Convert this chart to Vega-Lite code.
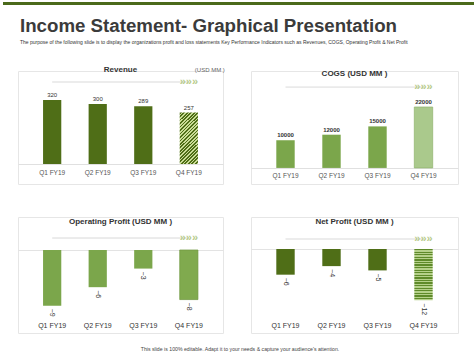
{
  "$schema": "https://vega.github.io/schema/vega-lite/v6.json",
  "padding": 0,
  "spacing": 0,
  "background": "white",
  "config": {
    "view": {"stroke": null},
    "font": "Liberation Sans",
    "title": {"font": "Liberation Sans", "fontSize": 8, "fontWeight": "bold", "color": "#333333"},
    "text": {"font": "Liberation Sans"},
    "axis": {"labelFont": "Liberation Sans"}
  },
  "datasets": {
    "revenue": [
      {"q": "Q1 FY19", "v": 320, "kind": "actual"},
      {"q": "Q2 FY19", "v": 300, "kind": "actual"},
      {"q": "Q3 FY19", "v": 289, "kind": "actual"},
      {"q": "Q4 FY19", "v": 257, "kind": "forecast"}
    ],
    "cogs": [
      {"q": "Q1 FY19", "v": 10000, "kind": "actual"},
      {"q": "Q2 FY19", "v": 12000, "kind": "actual"},
      {"q": "Q3 FY19", "v": 15000, "kind": "actual"},
      {"q": "Q4 FY19", "v": 22000, "kind": "forecast"}
    ],
    "op": [
      {"q": "Q1 FY19", "v": -9, "kind": "actual"},
      {"q": "Q2 FY19", "v": -6, "kind": "actual"},
      {"q": "Q3 FY19", "v": -3, "kind": "actual"},
      {"q": "Q4 FY19", "v": -8, "kind": "forecast"}
    ],
    "net": [
      {"q": "Q1 FY19", "v": -6, "kind": "actual"},
      {"q": "Q2 FY19", "v": -4, "kind": "actual"},
      {"q": "Q3 FY19", "v": -5, "kind": "actual"},
      {"q": "Q4 FY19", "v": -12, "kind": "forecast"}
    ]
  },
  "vconcat": [
    {
      "width": 474, "height": 3,
      "view": {"fill": "#4b6a1b", "stroke": null},
      "data": {"values": [{"s": "bar"}]},
      "mark": {"type": "point", "opacity": 0}
    },
    {
      "width": 474, "height": 57.6,
      "title": {
        "text": "Income Statement- Graphical Presentation",
        "subtitle": "The purpose of the following slide is to display the organizations profit and loss statements Key Performance Indicators such as Revenues, COGS,  Operating Profit & Net Profit",
        "anchor": "start", "frame": "group", "dx": 17, "offset": -37.5,
        "fontSize": 18.7, "fontWeight": "bold", "color": "#3b3b3b",
        "subtitleFont": "Liberation Sans", "subtitleFontSize": 5, "subtitleColor": "#333333", "subtitlePadding": 3.5
      },
      "data": {"values": [{"s": "header"}]},
      "mark": {"type": "point", "opacity": 0}
    },
    {
      "hconcat": [
        {"width": 15, "height": 113, "data": {"values": [{"s": "sp"}]}, "mark": {"type": "point", "opacity": 0}},
        {
          "width": 205, "height": 113,
          "view": {"stroke": "#e6e6e6", "strokeWidth": 1},
          "title": {"text": "Revenue", "offset": -7.1},
          "data": {"name": "revenue"},
          "encoding": {
            "x": {"field": "q", "type": "nominal",
              "scale": {"domain": ["Q1 FY19", "Q2 FY19", "Q3 FY19", "Q4 FY19"], "paddingInner": 0.6, "paddingOuter": 0.55},
              "axis": {"title": null, "labelAngle": 0, "labelFontSize": 6.5, "labelColor": "#555555", "labelPadding": 5.5, "ticks": false, "domain": true, "domainColor": "#e0e0e0", "offset": -20}},
            "y": {"field": "v", "type": "quantitative", "scale": {"domain": [-100, 465], "nice": false}, "axis": null}
          },
          "layer": [
            {
              "transform": [{"filter": "datum.q === 'Q1 FY19'"}],
              "mark": {"type": "rule", "color": "#cfcfcf", "strokeWidth": 0.8},
              "encoding": {
                "x2": {"datum": "Q4 FY19"},
                "y": {"datum": 410, "type": "quantitative"}
              }
            },
            {
              "transform": [{"filter": "datum.q === 'Q4 FY19'"}],
              "mark": {"type": "text", "fontSize": 11, "fontWeight": "bold", "color": "#b7cb8c", "baseline": "middle", "text": "»»»"},
              "encoding": {
                "y": {"datum": 410, "type": "quantitative"}
              }
            },
            {
              "transform": [{"filter": "datum.q === 'Q4 FY19'"}],
              "mark": {"type": "text", "fontSize": 6, "color": "#666666", "align": "left", "baseline": "middle", "dx": 6, "dy": -1, "text": "(USD MM )"},
              "encoding": {
                "y": {"datum": 465, "type": "quantitative"}
              }
            },
            {
              "transform": [{"filter": "datum.kind === 'actual'"}],
              "mark": {"type": "bar", "color": "#4f6e17"}
            },
            {
              "transform": [{"filter": "datum.kind === 'forecast'"}],
              "mark": {"type": "bar", "fill": {"gradient": "linear", "x1": 0, "y1": 0, "x2": 0.42, "y2": 1.2, "stops": [
                {"offset": 0, "color": "#4f6e17"}, {"offset": 0.025, "color": "#4f6e17"},
                {"offset": 0.025, "color": "#cadd96"}, {"offset": 0.05, "color": "#cadd96"},
                {"offset": 0.05, "color": "#4f6e17"}, {"offset": 0.075, "color": "#4f6e17"},
                {"offset": 0.075, "color": "#cadd96"}, {"offset": 0.1, "color": "#cadd96"},
                {"offset": 0.1, "color": "#4f6e17"}, {"offset": 0.125, "color": "#4f6e17"},
                {"offset": 0.125, "color": "#cadd96"}, {"offset": 0.15, "color": "#cadd96"},
                {"offset": 0.15, "color": "#4f6e17"}, {"offset": 0.175, "color": "#4f6e17"},
                {"offset": 0.175, "color": "#cadd96"}, {"offset": 0.2, "color": "#cadd96"},
                {"offset": 0.2, "color": "#4f6e17"}, {"offset": 0.225, "color": "#4f6e17"},
                {"offset": 0.225, "color": "#cadd96"}, {"offset": 0.25, "color": "#cadd96"},
                {"offset": 0.25, "color": "#4f6e17"}, {"offset": 0.275, "color": "#4f6e17"},
                {"offset": 0.275, "color": "#cadd96"}, {"offset": 0.3, "color": "#cadd96"},
                {"offset": 0.3, "color": "#4f6e17"}, {"offset": 0.325, "color": "#4f6e17"},
                {"offset": 0.325, "color": "#cadd96"}, {"offset": 0.35, "color": "#cadd96"},
                {"offset": 0.35, "color": "#4f6e17"}, {"offset": 0.375, "color": "#4f6e17"},
                {"offset": 0.375, "color": "#cadd96"}, {"offset": 0.4, "color": "#cadd96"},
                {"offset": 0.4, "color": "#4f6e17"}, {"offset": 0.425, "color": "#4f6e17"},
                {"offset": 0.425, "color": "#cadd96"}, {"offset": 0.45, "color": "#cadd96"},
                {"offset": 0.45, "color": "#4f6e17"}, {"offset": 0.475, "color": "#4f6e17"},
                {"offset": 0.475, "color": "#cadd96"}, {"offset": 0.5, "color": "#cadd96"},
                {"offset": 0.5, "color": "#4f6e17"}, {"offset": 0.525, "color": "#4f6e17"},
                {"offset": 0.525, "color": "#cadd96"}, {"offset": 0.55, "color": "#cadd96"},
                {"offset": 0.55, "color": "#4f6e17"}, {"offset": 0.575, "color": "#4f6e17"},
                {"offset": 0.575, "color": "#cadd96"}, {"offset": 0.6, "color": "#cadd96"},
                {"offset": 0.6, "color": "#4f6e17"}, {"offset": 0.625, "color": "#4f6e17"},
                {"offset": 0.625, "color": "#cadd96"}, {"offset": 0.65, "color": "#cadd96"},
                {"offset": 0.65, "color": "#4f6e17"}, {"offset": 0.675, "color": "#4f6e17"},
                {"offset": 0.675, "color": "#cadd96"}, {"offset": 0.7, "color": "#cadd96"},
                {"offset": 0.7, "color": "#4f6e17"}, {"offset": 0.725, "color": "#4f6e17"},
                {"offset": 0.725, "color": "#cadd96"}, {"offset": 0.75, "color": "#cadd96"},
                {"offset": 0.75, "color": "#4f6e17"}, {"offset": 0.775, "color": "#4f6e17"},
                {"offset": 0.775, "color": "#cadd96"}, {"offset": 0.8, "color": "#cadd96"},
                {"offset": 0.8, "color": "#4f6e17"}, {"offset": 0.825, "color": "#4f6e17"},
                {"offset": 0.825, "color": "#cadd96"}, {"offset": 0.85, "color": "#cadd96"},
                {"offset": 0.85, "color": "#4f6e17"}, {"offset": 0.875, "color": "#4f6e17"},
                {"offset": 0.875, "color": "#cadd96"}, {"offset": 0.9, "color": "#cadd96"},
                {"offset": 0.9, "color": "#4f6e17"}, {"offset": 0.925, "color": "#4f6e17"},
                {"offset": 0.925, "color": "#cadd96"}, {"offset": 0.95, "color": "#cadd96"},
                {"offset": 0.95, "color": "#4f6e17"}, {"offset": 0.975, "color": "#4f6e17"},
                {"offset": 0.975, "color": "#cadd96"}, {"offset": 1, "color": "#cadd96"}
              ]}}
            },
            {
              "mark": {"type": "text", "fontSize": 6, "color": "#333333", "baseline": "bottom", "dy": -2},
              "encoding": {"text": {"field": "v", "type": "quantitative"}}
            }
          ]
        },
        {"width": 28, "height": 113, "data": {"values": [{"s": "sp"}]}, "mark": {"type": "point", "opacity": 0}},
        {
          "width": 207, "height": 113,
          "view": {"stroke": "#e6e6e6", "strokeWidth": 1},
          "title": {"text": "COGS (USD MM )", "offset": -7.1},
          "data": {"name": "cogs"},
          "encoding": {
            "x": {"field": "q", "type": "nominal",
              "scale": {"domain": ["Q1 FY19", "Q2 FY19", "Q3 FY19", "Q4 FY19"], "paddingInner": 0.6, "paddingOuter": 0.55},
              "axis": {"title": null, "labelAngle": 0, "labelFontSize": 6.5, "labelColor": "#555555", "labelPadding": 4, "ticks": false, "domain": true, "domainColor": "#e0e0e0", "offset": -16}},
            "y": {"field": "v", "type": "quantitative", "scale": {"domain": [-5800, 35000], "nice": false}, "axis": null}
          },
          "layer": [
            {
              "transform": [{"filter": "datum.q === 'Q1 FY19'"}],
              "mark": {"type": "rule", "color": "#cfcfcf", "strokeWidth": 0.8},
              "encoding": {
                "x2": {"datum": "Q4 FY19"},
                "y": {"datum": 29200, "type": "quantitative"}
              }
            },
            {
              "transform": [{"filter": "datum.q === 'Q4 FY19'"}],
              "mark": {"type": "text", "fontSize": 11, "fontWeight": "bold", "color": "#b7cb8c", "baseline": "middle", "text": "»»»"},
              "encoding": {
                "y": {"datum": 29200, "type": "quantitative"}
              }
            },
            {
              "transform": [{"filter": "datum.kind === 'actual'"}],
              "mark": {"type": "bar", "color": "#7ba64b"}
            },
            {
              "transform": [{"filter": "datum.kind === 'forecast'"}],
              "mark": {"type": "bar", "fill": "#aac98c", "stroke": "#8fb36d", "strokeWidth": 0.7}
            },
            {
              "mark": {"type": "text", "fontSize": 6, "fontWeight": "bold", "color": "#333333", "baseline": "bottom", "dy": -2},
              "encoding": {"text": {"field": "v", "type": "quantitative", "format": "d"}}
            }
          ]
        }
      ],
      "spacing": 0,
      "bounds": "flush"
    },
    {"width": 1, "height": 30.6, "data": {"values": [{"s": "gap"}]}, "mark": {"type": "point", "opacity": 0}},
    {
      "hconcat": [
        {"width": 15, "height": 116, "data": {"values": [{"s": "sp"}]}, "mark": {"type": "point", "opacity": 0}},
        {
          "width": 205, "height": 116,
          "view": {"stroke": "#e6e6e6", "strokeWidth": 1},
          "title": {"text": "Operating Profit (USD MM )", "offset": -8.6},
          "data": {"name": "op"},
          "encoding": {
            "x": {"field": "q", "type": "nominal",
              "scale": {"domain": ["Q1 FY19", "Q2 FY19", "Q3 FY19", "Q4 FY19"], "paddingInner": 0.6, "paddingOuter": 0.55},
              "axis": {"title": null, "labelAngle": 0, "labelFontSize": 7, "labelColor": "#333333", "labelPadding": 71.5, "ticks": false, "domain": true, "domainColor": "#e3e3e3", "offset": -83}},
            "y": {"field": "v", "type": "quantitative", "scale": {"domain": [-13.39, 5.32], "nice": false}, "axis": null}
          },
          "layer": [
            {
              "transform": [{"filter": "datum.q === 'Q1 FY19'"}],
              "mark": {"type": "rule", "color": "#cfcfcf", "strokeWidth": 0.8},
              "encoding": {
                "x2": {"datum": "Q4 FY19"},
                "y": {"datum": 1.93, "type": "quantitative"}
              }
            },
            {
              "transform": [{"filter": "datum.q === 'Q4 FY19'"}],
              "mark": {"type": "text", "fontSize": 11, "fontWeight": "bold", "color": "#b7cb8c", "baseline": "middle", "text": "»»»"},
              "encoding": {
                "y": {"datum": 1.93, "type": "quantitative"}
              }
            },
            {
              "transform": [{"filter": "datum.kind === 'actual'"}],
              "mark": {"type": "bar", "color": "#7ba64b"}
            },
            {
              "transform": [{"filter": "datum.kind === 'forecast'"}],
              "mark": {"type": "bar", "fill": "#80aa4e", "stroke": "#6e963f", "strokeWidth": 0.7}
            },
            {
              "mark": {"type": "text", "fontSize": 7, "color": "#333333", "angle": 90, "align": "left", "baseline": "middle", "dx": 3},
              "encoding": {"text": {"field": "v", "type": "quantitative"}}
            }
          ]
        },
        {"width": 28, "height": 116, "data": {"values": [{"s": "sp"}]}, "mark": {"type": "point", "opacity": 0}},
        {
          "width": 207, "height": 116,
          "view": {"stroke": "#e6e6e6", "strokeWidth": 1},
          "title": {"text": "Net Profit (USD MM )", "offset": -8.6},
          "data": {"name": "net"},
          "encoding": {
            "x": {"field": "q", "type": "nominal",
              "scale": {"domain": ["Q1 FY19", "Q2 FY19", "Q3 FY19", "Q4 FY19"], "paddingInner": 0.6, "paddingOuter": 0.55},
              "axis": {"title": null, "labelAngle": 0, "labelFontSize": 7, "labelColor": "#333333", "labelPadding": 72.5, "ticks": false, "domain": true, "domainColor": "#e3e3e3", "offset": -84}},
            "y": {"field": "v", "type": "quantitative", "scale": {"domain": [-19.63, 7.48], "nice": false}, "axis": null}
          },
          "layer": [
            {
              "transform": [{"filter": "datum.q === 'Q1 FY19'"}],
              "mark": {"type": "rule", "color": "#cfcfcf", "strokeWidth": 0.8},
              "encoding": {
                "x2": {"datum": "Q4 FY19"},
                "y": {"datum": 2.34, "type": "quantitative"}
              }
            },
            {
              "transform": [{"filter": "datum.q === 'Q4 FY19'"}],
              "mark": {"type": "text", "fontSize": 11, "fontWeight": "bold", "color": "#b7cb8c", "baseline": "middle", "text": "»»»"},
              "encoding": {
                "y": {"datum": 2.34, "type": "quantitative"}
              }
            },
            {
              "transform": [{"filter": "datum.kind === 'actual'"}],
              "mark": {"type": "bar", "color": "#4f6e17"}
            },
            {
              "transform": [{"filter": "datum.kind === 'forecast'"}],
              "mark": {"type": "bar", "fill": {"gradient": "linear", "x1": 0, "y1": 0, "x2": 0, "y2": 1, "stops": [
                {"offset": 0, "color": "#5f8a2a"}, {"offset": 0.025, "color": "#5f8a2a"},
                {"offset": 0.025, "color": "#b5d08a"}, {"offset": 0.05, "color": "#b5d08a"},
                {"offset": 0.05, "color": "#5f8a2a"}, {"offset": 0.075, "color": "#5f8a2a"},
                {"offset": 0.075, "color": "#b5d08a"}, {"offset": 0.1, "color": "#b5d08a"},
                {"offset": 0.1, "color": "#5f8a2a"}, {"offset": 0.125, "color": "#5f8a2a"},
                {"offset": 0.125, "color": "#b5d08a"}, {"offset": 0.15, "color": "#b5d08a"},
                {"offset": 0.15, "color": "#5f8a2a"}, {"offset": 0.175, "color": "#5f8a2a"},
                {"offset": 0.175, "color": "#b5d08a"}, {"offset": 0.2, "color": "#b5d08a"},
                {"offset": 0.2, "color": "#5f8a2a"}, {"offset": 0.225, "color": "#5f8a2a"},
                {"offset": 0.225, "color": "#b5d08a"}, {"offset": 0.25, "color": "#b5d08a"},
                {"offset": 0.25, "color": "#5f8a2a"}, {"offset": 0.275, "color": "#5f8a2a"},
                {"offset": 0.275, "color": "#b5d08a"}, {"offset": 0.3, "color": "#b5d08a"},
                {"offset": 0.3, "color": "#5f8a2a"}, {"offset": 0.325, "color": "#5f8a2a"},
                {"offset": 0.325, "color": "#b5d08a"}, {"offset": 0.35, "color": "#b5d08a"},
                {"offset": 0.35, "color": "#5f8a2a"}, {"offset": 0.375, "color": "#5f8a2a"},
                {"offset": 0.375, "color": "#b5d08a"}, {"offset": 0.4, "color": "#b5d08a"},
                {"offset": 0.4, "color": "#5f8a2a"}, {"offset": 0.425, "color": "#5f8a2a"},
                {"offset": 0.425, "color": "#b5d08a"}, {"offset": 0.45, "color": "#b5d08a"},
                {"offset": 0.45, "color": "#5f8a2a"}, {"offset": 0.475, "color": "#5f8a2a"},
                {"offset": 0.475, "color": "#b5d08a"}, {"offset": 0.5, "color": "#b5d08a"},
                {"offset": 0.5, "color": "#5f8a2a"}, {"offset": 0.525, "color": "#5f8a2a"},
                {"offset": 0.525, "color": "#b5d08a"}, {"offset": 0.55, "color": "#b5d08a"},
                {"offset": 0.55, "color": "#5f8a2a"}, {"offset": 0.575, "color": "#5f8a2a"},
                {"offset": 0.575, "color": "#b5d08a"}, {"offset": 0.6, "color": "#b5d08a"},
                {"offset": 0.6, "color": "#5f8a2a"}, {"offset": 0.625, "color": "#5f8a2a"},
                {"offset": 0.625, "color": "#b5d08a"}, {"offset": 0.65, "color": "#b5d08a"},
                {"offset": 0.65, "color": "#5f8a2a"}, {"offset": 0.675, "color": "#5f8a2a"},
                {"offset": 0.675, "color": "#b5d08a"}, {"offset": 0.7, "color": "#b5d08a"},
                {"offset": 0.7, "color": "#5f8a2a"}, {"offset": 0.725, "color": "#5f8a2a"},
                {"offset": 0.725, "color": "#b5d08a"}, {"offset": 0.75, "color": "#b5d08a"},
                {"offset": 0.75, "color": "#5f8a2a"}, {"offset": 0.775, "color": "#5f8a2a"},
                {"offset": 0.775, "color": "#b5d08a"}, {"offset": 0.8, "color": "#b5d08a"},
                {"offset": 0.8, "color": "#5f8a2a"}, {"offset": 0.825, "color": "#5f8a2a"},
                {"offset": 0.825, "color": "#b5d08a"}, {"offset": 0.85, "color": "#b5d08a"},
                {"offset": 0.85, "color": "#5f8a2a"}, {"offset": 0.875, "color": "#5f8a2a"},
                {"offset": 0.875, "color": "#b5d08a"}, {"offset": 0.9, "color": "#b5d08a"},
                {"offset": 0.9, "color": "#5f8a2a"}, {"offset": 0.925, "color": "#5f8a2a"},
                {"offset": 0.925, "color": "#b5d08a"}, {"offset": 0.95, "color": "#b5d08a"},
                {"offset": 0.95, "color": "#5f8a2a"}, {"offset": 0.975, "color": "#5f8a2a"},
                {"offset": 0.975, "color": "#b5d08a"}, {"offset": 1, "color": "#b5d08a"}
              ]}}
            },
            {
              "mark": {"type": "text", "fontSize": 7, "color": "#333333", "angle": 90, "align": "left", "baseline": "middle", "dx": 3},
              "encoding": {"text": {"field": "v", "type": "quantitative"}}
            }
          ]
        }
      ],
      "spacing": 0,
      "bounds": "flush"
    },
    {
      "width": 474, "height": 29,
      "data": {"values": [{"t": "This slide is 100% editable.  Adapt it to your needs & capture your audience's attention."}]},
      "mark": {"type": "text", "fontSize": 5.2, "color": "#444444"},
      "encoding": {"text": {"field": "t"}}
    }
  ]
}
